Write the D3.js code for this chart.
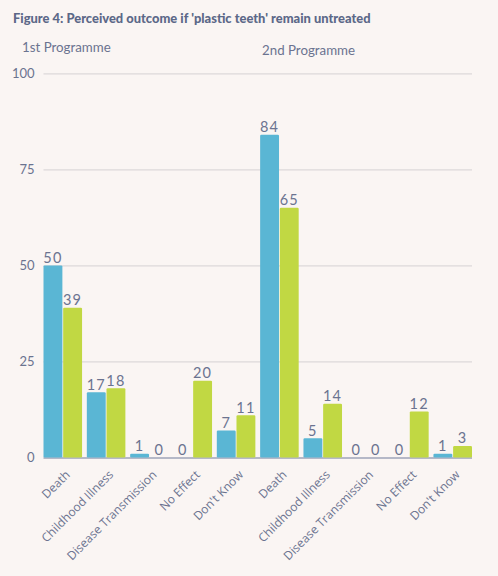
<!DOCTYPE html>
<html>
<head>
<meta charset="utf-8">
<script src="https://cdn.jsdelivr.net/npm/d3@7"></script>
<style>
  body { margin: 0; background: #faf5f3; }
  svg { display: block; }
</style>
</head>
<body>
<svg id="chart" width="498" height="576"></svg>
<script>
// chart data
const outcomes = ["Death", "Childhood Illness", "Disease Transmission", "No Effect", "Don't Know"];
const programmes = ["1st Programme", "2nd Programme"];
const blueValues = [50, 17, 1, 0, 7, 84, 5, 0, 0, 1];
const greenValues = [39, 18, 0, 20, 11, 65, 14, 0, 12, 3];
const yTicks = [0, 25, 50, 75, 100];

const textColor = "#6b7390";
const blue = "#5ab6d4";
const green = "#c1d843";

const svg = d3.select("#chart");
const margin = { left: 43.5, right: 26, top: 73.3, bottom: 118.5 };
const width = 498 - margin.left - margin.right;
const height = 576 - margin.top - margin.bottom;

// one band per outcome per programme
const groups = d3.range(blueValues.length).map(i => ({
  key: i,
  label: outcomes[i % outcomes.length],
  values: [{ s: "blue", v: blueValues[i] }, { s: "green", v: greenValues[i] }]
}));

const x0 = d3.scaleBand()
  .domain(groups.map(d => d.key))
  .range([0, width])
  .paddingInner(0.11)
  .paddingOuter(0);

const x1 = d3.scaleBand()
  .domain(["blue", "green"])
  .range([0, x0.bandwidth()])
  .paddingInner(0.04);

const y = d3.scaleLinear().domain([0, 100]).range([height, 0]);

// title, sized so it spans the same width as the original
const title = svg.append("text")
  .attr("x", 13)
  .attr("y", 23)
  .attr("font-family", "Lato")
  .attr("font-weight", 900)
  .attr("font-size", 13)
  .attr("fill", "#5c6888")
  .text("Figure 4: Perceived outcome if 'plastic teeth' remain untreated");
const tw = title.node().getComputedTextLength();
title.attr("font-size", Math.min(14, 13 * 358 / tw));

// programme labels
svg.append("text")
  .attr("x", 22).attr("y", 52)
  .attr("font-family", "Lato").attr("font-size", 13.3)
  .attr("fill", textColor)
  .text(programmes[0]);
svg.append("text")
  .attr("x", 262).attr("y", 55)
  .attr("font-family", "Lato").attr("font-size", 13.3)
  .attr("fill", textColor)
  .text(programmes[1]);

const g = svg.append("g").attr("transform", `translate(${margin.left},${margin.top})`);

// gridlines + y labels
const yAxis = g.append("g")
  .call(d3.axisLeft(y).tickValues(yTicks).tickSize(-width).tickPadding(9));
yAxis.select(".domain").remove();
yAxis.selectAll(".tick line")
  .attr("stroke", d => d === 0 ? "#9ea3b8" : "#dcd8da")
  .attr("stroke-width", d => d === 0 ? 1.5 : 1.2);
yAxis.selectAll(".tick text")
  .attr("font-family", "Lato")
  .attr("font-size", 13)
  .attr("fill", textColor);

// bars
const grp = g.selectAll(".grp")
  .data(groups)
  .enter().append("g")
  .attr("class", "grp")
  .attr("transform", d => `translate(${x0(d.key)},0)`);

grp.selectAll("rect")
  .data(d => d.values)
  .enter().append("rect")
  .attr("x", d => x1(d.s))
  .attr("y", d => y(d.v))
  .attr("width", x1.bandwidth())
  .attr("height", d => height - y(d.v))
  .attr("rx", 1.2)
  .attr("fill", d => d.s === "blue" ? blue : green);

// value labels
grp.selectAll(".val")
  .data(d => d.values)
  .enter().append("text")
  .attr("class", "val")
  .attr("x", d => x1(d.s) + x1.bandwidth() / 2)
  .attr("y", d => y(d.v) - 2.5)
  .attr("text-anchor", "middle")
  .attr("font-family", "Lato")
  .attr("font-size", 14.5)
  .attr("letter-spacing", 1.2)
  .attr("fill", textColor)
  .text(d => d.v);

// x labels, rotated
g.selectAll(".xlab")
  .data(groups)
  .enter().append("text")
  .attr("class", "xlab")
  .attr("transform", d => `translate(${x0(d.key) + x0.bandwidth() / 2 + 2},${height + 12}) rotate(-45)`)
  .attr("text-anchor", "end")
  .attr("dy", 8.4)
  .attr("font-family", "Open Sans")
  .attr("font-size", 12)
  .attr("fill", textColor)
  .text(d => d.label);
</script>
</body>
</html>
